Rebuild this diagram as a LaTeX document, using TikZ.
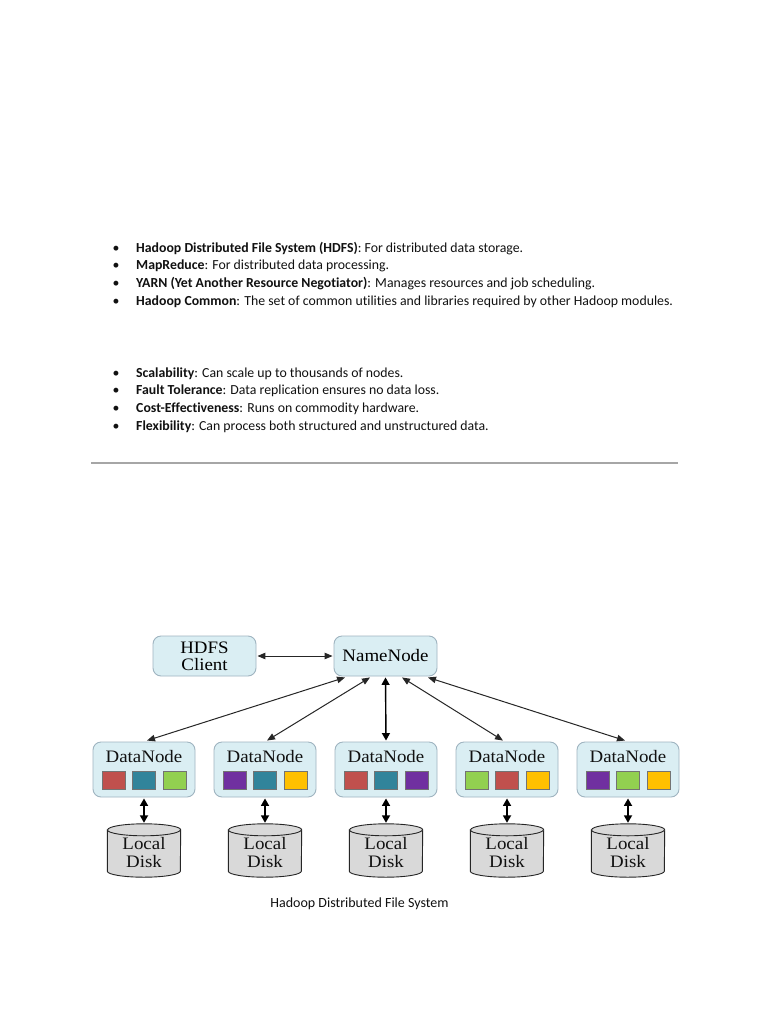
\documentclass[tikz,border=0pt]{standalone}
\usepackage{fontspec}
\setmainfont{Carlito}[Ligatures={NoCommon}]
\newfontfamily\dsf[FakeStretch=1.08]{Liberation Serif}
\usetikzlibrary{arrows.meta,backgrounds}
\definecolor{boxfill}{HTML}{DAEEF3}
\definecolor{boxline}{HTML}{9FB4C0}
\definecolor{diskfill}{HTML}{D9D9D9}
\definecolor{cr}{HTML}{C0504D}
\definecolor{ct}{HTML}{31849B}
\definecolor{cg}{HTML}{92D050}
\definecolor{cp}{HTML}{7030A0}
\definecolor{cy}{HTML}{FFC000}
\definecolor{rule}{HTML}{A6A6A6}
\definecolor{txt}{HTML}{111111}
\begin{document}
\begin{tikzpicture}[x=1pt,y=-1pt,
  bodytext/.style={anchor=base west,inner sep=0pt,text=txt,font=\fontsize{13.8}{17}\selectfont},
  bulletdot/.style={anchor=base,inner sep=0pt,text=txt,font=\fontsize{13.8}{17}\selectfont},
  rbox/.style={draw=boxline,fill=boxfill,rounded corners=8pt,line width=0.9pt,inner sep=0pt,
    align=center,font=\dsf\fontsize{17.5}{18}\selectfont},
  topbox/.style={rbox,minimum width=103pt,minimum height=40pt},
  dnbox/.style={rbox,minimum width=102pt,minimum height=55pt},
  dnlabel/.style={inner sep=0pt,text=txt,font=\dsf\fontsize{17.5}{18}\selectfont},
  blk/.style={draw=black!55,line width=0.5pt,minimum width=23pt,minimum height=18pt,inner sep=0pt},
  diskbody/.style={inner sep=0pt,minimum width=73pt,minimum height=53pt},
  disktext/.style={inner sep=0pt,align=center,text=txt,font=\dsf\fontsize{17.5}{18}\selectfont},
  diskshape/.style={draw=black!85,fill=diskfill,line width=0.9pt},
  link/.style={draw=black!85,line width=1pt,{Triangle[length=8pt,width=6.5pt]}-{Triangle[length=8pt,width=6.5pt]}},
  vlink/.style={draw=black,line width=1.7pt,{Triangle[length=7.5pt,width=8pt]}-{Triangle[length=7.5pt,width=8pt]}}
]
\begin{pgfonlayer}{background}
\fill[white] (0,0) rectangle (768,1024);
\end{pgfonlayer}
\useasboundingbox (0,0) rectangle (768,1024);

% first list
\node[bulletdot] (b1) at (116,252) {•};
\node[bodytext] (t1) at (136,252) {\textbf{Hadoop Distributed File System (HDFS)}: For distributed data storage.};
\node[bulletdot] (b2) at (116,269.7) {•};
\node[bodytext] (t2) at (136,269.7) {\textbf{MapReduce}: For distributed data processing.};
\node[bulletdot] (b3) at (116,287.4) {•};
\node[bodytext] (t3) at (136,287.4) {\textbf{YARN (Yet Another Resource Negotiator)}: Manages resources and job scheduling.};
\node[bulletdot] (b4) at (116,305.1) {•};
\node[bodytext] (t4) at (136,305.1) {\textbf{Hadoop Common}: The set of common utilities and libraries required by other Hadoop modules.};

% second list
\node[bulletdot] (b5) at (116,377) {•};
\node[bodytext] (t5) at (136,377) {\textbf{Scalability}: Can scale up to thousands of nodes.};
\node[bulletdot] (b6) at (116,394.7) {•};
\node[bodytext] (t6) at (136,394.7) {\textbf{Fault Tolerance}: Data replication ensures no data loss.};
\node[bulletdot] (b7) at (116,412.4) {•};
\node[bodytext] (t7) at (136,412.4) {\textbf{Cost-Effectiveness}: Runs on commodity hardware.};
\node[bulletdot] (b8) at (116,430.1) {•};
\node[bodytext] (t8) at (136,430.1) {\textbf{Flexibility}: Can process both structured and unstructured data.};

% rule
\coordinate (r1) at (91,463);
\coordinate (r2) at (678,463);
\draw[rule,line width=2.6pt] (r1) -- (r2);

% top boxes
\node[topbox] (hc) at (204.5,656) {HDFS\\[-1pt]Client};
\node[topbox] (nn) at (385.5,656) {NameNode};
\draw[link] ([xshift=1pt]hc.east) -- ([xshift=-1pt]nn.west);

% data nodes
\foreach \i/\x/\ca/\cb/\cc in {1/144/cr/ct/cg, 2/265/cp/ct/cy, 3/386/cr/ct/cp, 4/507/cg/cr/cy, 5/628/cp/cg/cy}{
  \node[dnbox] (dn\i) at (\x,769.5) {};
  \node[dnlabel] (dl\i) at (\x,757) {DataNode};
  \node[blk,fill=\ca] (sa\i) at (\x-30.5,780) {};
  \node[blk,fill=\cb] (sb\i) at (\x,780) {};
  \node[blk,fill=\cc] (sc\i) at (\x+30.5,780) {};
  \node[diskbody] (dk\i) at (\x,850.5) {};
  \draw[diskshape] ([yshift=-6pt]dk\i.north west) -- ([yshift=6pt]dk\i.south west)
    arc[start angle=180,end angle=360,x radius=36.5pt,y radius=6pt]
    -- ([yshift=-6pt]dk\i.north east)
    arc[start angle=0,end angle=180,x radius=36.5pt,y radius=6pt] -- cycle;
  \draw[diskshape,fill=none] ([yshift=-6pt]dk\i.north west)
    arc[start angle=180,end angle=360,x radius=36.5pt,y radius=6pt];
  \node[disktext] (dt\i) at (\x,853) {Local\\Disk};
  \draw[vlink] ([yshift=-1pt]dn\i.south) -- ([yshift=1pt]dk\i.north);
}

% name node links
\draw[link] ([xshift=-40.5pt,yshift=-1pt]nn.south) -- ([xshift=3pt,yshift=1pt]dn1.north);
\draw[link] ([xshift=-15.5pt,yshift=-1pt]nn.south) -- ([xshift=2pt,yshift=1pt]dn2.north);
\draw[vlink,line width=1.4pt] ([yshift=-1pt]nn.south) -- ([yshift=1pt]dn3.north);
\draw[link] ([xshift=16.5pt,yshift=-1pt]nn.south) -- ([xshift=-4pt,yshift=1pt]dn4.north);
\draw[link] ([xshift=42.5pt,yshift=-1pt]nn.south) -- ([xshift=-3pt,yshift=1pt]dn5.north);

% caption
\node[inner sep=0pt,text=txt,font=\fontsize{14}{17}\selectfont] (cap) at (359.5,904) {Hadoop Distributed File System};
\end{tikzpicture}
\end{document}
